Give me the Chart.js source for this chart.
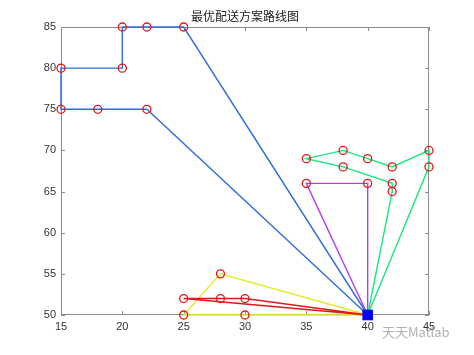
<!DOCTYPE html>
<html>
<head>
<meta charset="utf-8">
<script src="https://cdn.jsdelivr.net/npm/chart.js@4"></script>
<style>
  html, body { margin: 0; padding: 0; background: #fff; }
  #wrap { width: 474px; height: 355px; position: relative; }
</style>
</head>
<body>
<div id="wrap"><canvas id="c" width="474" height="355"></canvas></div>
<script>
// ---- data ----
const chartTitle = '最优配送方案路线图';
const depotX = [40];
const depotY = [50];
const blueRouteX = [40, 22, 18, 15, 15, 20, 20, 22, 25, 40];
const blueRouteY = [50, 75, 75, 75, 80, 80, 85, 85, 85, 50];
const greenRouteX = [40, 42, 42, 38, 35, 38, 40, 42, 45, 45, 40];
const greenRouteY = [50, 65, 66, 68, 69, 70, 69, 68, 70, 68, 50];
const magentaRouteX = [40, 40, 35, 40];
const magentaRouteY = [50, 66, 66, 50];
const redRouteX = [40, 30, 28, 25, 40];
const redRouteY = [50, 52, 52, 52, 50];
const yellowRouteX = [40, 28, 25, 30, 40];
const yellowRouteY = [50, 55, 50, 50, 50];
const xTicks = [15, 20, 25, 30, 35, 40, 45];
const yTicks = [50, 55, 60, 65, 70, 75, 80, 85];
const watermark = '天天Matlab';

// ---- build ----
function pts(xs, ys) { return xs.map((x, i) => ({ x: x, y: ys[i] })); }
const routes = [
  { xs: blueRouteX, ys: blueRouteY, color: 'rgb(45,110,220)' },
  { xs: greenRouteX, ys: greenRouteY, color: 'rgb(25,230,125)' },
  { xs: magentaRouteX, ys: magentaRouteY, color: 'rgb(185,60,235)' },
  { xs: redRouteX, ys: redRouteY, color: 'rgb(225,25,25)' },
  { xs: yellowRouteX, ys: yellowRouteY, color: 'rgb(230,235,40)' }
];
const customers = [];
routes.forEach(r => r.xs.forEach((x, i) => {
  const y = r.ys[i];
  if (!(x === depotX[0] && y === depotY[0])) customers.push({ x: x, y: y });
}));

const datasets = [
  { data: pts(depotX, depotY), pointStyle: 'rect', pointRadius: 7.5, backgroundColor: '#0000ff', borderColor: '#0000ff', borderWidth: 0, showLine: false, order: 0, clip: false },
  { data: customers, pointStyle: 'circle', pointRadius: 4, backgroundColor: 'rgba(0,0,0,0)', borderColor: 'rgb(230,20,20)', borderWidth: 1.3, showLine: false, order: 1, clip: false }
];
routes.forEach((r, i) => datasets.push({
  data: pts(r.xs, r.ys), showLine: true, borderColor: r.color, borderWidth: 1.4,
  pointRadius: 0, fill: false, tension: 0, order: 2 + i, clip: false
}));

const L = 61, R = 429, T = 27, B = 315;

const matlabAxes = {
  id: 'matlabAxes',
  beforeDatasetsDraw(chart) {
    const ctx = chart.ctx, a = chart.chartArea;
    const xs = chart.scales.x, ys = chart.scales.y;
    ctx.save();
    ctx.strokeStyle = '#8c8c8c';
    ctx.lineWidth = 1;
    ctx.strokeRect(a.left + 0.5, a.top + 0.5, a.right - a.left - 1, a.bottom - a.top - 1);
    ctx.beginPath();
    const tl = 4;
    xTicks.forEach(v => {
      const px = Math.round(xs.getPixelForValue(v)) + 0.5;
      ctx.moveTo(px, a.bottom); ctx.lineTo(px, a.bottom - tl);
      ctx.moveTo(px, a.top); ctx.lineTo(px, a.top + tl);
    });
    yTicks.forEach(v => {
      const py = Math.round(ys.getPixelForValue(v)) + 0.5;
      ctx.moveTo(a.left, py); ctx.lineTo(a.left + tl, py);
      ctx.moveTo(a.right, py); ctx.lineTo(a.right - tl, py);
    });
    ctx.stroke();
    ctx.restore();
  },
  afterDraw(chart) {
    const ctx = chart.ctx, a = chart.chartArea;
    ctx.save();
    ctx.fillStyle = '#222';
    ctx.font = '12px "Noto Sans CJK SC", serif';
    ctx.textAlign = 'center';
    ctx.textBaseline = 'alphabetic';
    ctx.fillText(chartTitle, (a.left + a.right) / 2, 21);
    ctx.fillStyle = 'rgba(150,150,150,0.75)';
    ctx.font = '13px "Noto Sans CJK SC", sans-serif';
    ctx.textAlign = 'left';
    ctx.fillText(watermark, 382, 337);
    ctx.restore();
  }
};

new Chart(document.getElementById('c'), {
  type: 'scatter',
  data: { datasets: datasets },
  options: {
    responsive: false,
    animation: false,
    layout: { padding: { left: 0, right: 474 - R, top: T, bottom: 0 } },
    plugins: { legend: { display: false }, tooltip: { enabled: false }, title: { display: false } },
    scales: {
      x: {
        type: 'linear', min: 15, max: 45,
        afterBuildTicks: s => { s.ticks = xTicks.map(v => ({ value: v })); },
        afterFit: s => { s.height = 355 - B; },
        grid: { display: false, drawTicks: false },
        border: { display: false },
        ticks: { color: '#333', font: { family: 'Liberation Sans, Arial, sans-serif', size: 11 }, padding: 5, maxRotation: 0 }
      },
      y: {
        type: 'linear', min: 50, max: 85,
        afterBuildTicks: s => { s.ticks = yTicks.map(v => ({ value: v })); },
        afterFit: s => { s.width = L; },
        grid: { display: false, drawTicks: false },
        border: { display: false },
        ticks: { color: '#333', font: { family: 'Liberation Sans, Arial, sans-serif', size: 11 }, padding: 5 }
      }
    }
  },
  plugins: [matlabAxes]
});
</script>
</body>
</html>
